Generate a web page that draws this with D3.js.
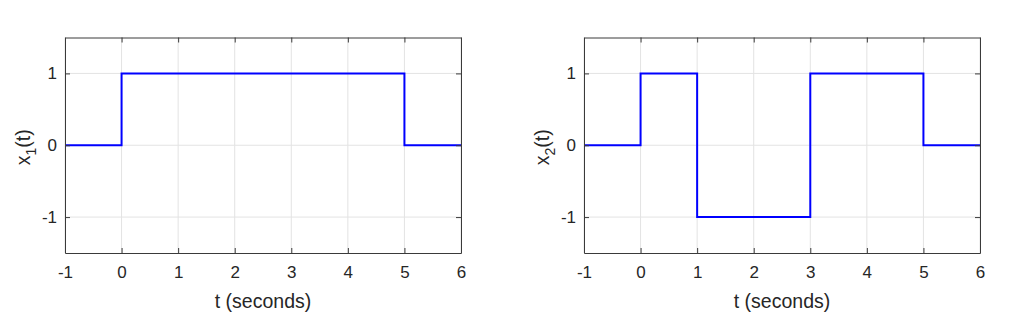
<!DOCTYPE html>
<html><head><meta charset="utf-8">
<script src="https://cdn.jsdelivr.net/npm/d3@7"></script>
<style>body{margin:0;background:#fff;} svg{display:block;font-family:"Liberation Sans",Arial,sans-serif;}</style>
</head><body>
<svg id="c" width="1015" height="331"></svg>
<script>
const xTicks = [-1,0,1,2,3,4,5,6];
const yTicks = [-1,0,1];
const t1 = [-1,0,0,5,5,6];
const x1 = [0,0,1,1,0,0];
const t2 = [-1,0,0,1,1,3,3,5,5,6];
const x2 = [0,0,1,1,-1,-1,1,1,0,0];
const xLabel = "t (seconds)";
const panels = [
  {t:t1, v:x1, sub:"1", left:65},
  {t:t2, v:x2, sub:"2", left:584}
];
const svg = d3.select("#c");
const W = 396, plotTop = 37.5, H = 215.5;
const axisColor = "#3a3a3a", gridColor = "#e3e3e3";
const fmt = d => String(d);
panels.forEach(p=>{
  const g = svg.append("g").attr("transform",`translate(${p.left},${plotTop})`);
  const x = d3.scaleLinear().domain([-1,6]).range([0,W]);
  const y = d3.scaleLinear().domain([-1.5,1.5]).range([H,0]);
  g.selectAll(".gx").data(xTicks).join("line").attr("x1",d=>x(d)).attr("x2",d=>x(d)).attr("y1",0).attr("y2",H).attr("stroke",gridColor).attr("stroke-width",1);
  g.selectAll(".gy").data(yTicks).join("line").attr("y1",d=>y(d)).attr("y2",d=>y(d)).attr("x1",0).attr("x2",W).attr("stroke",gridColor).attr("stroke-width",1);
  const line = d3.line().x(d=>x(d[0])).y(d=>y(d[1]));
  g.append("path").datum(p.t.map((tt,i)=>[tt,p.v[i]])).attr("d",line).attr("fill","none").attr("stroke","#0000ff").attr("stroke-width",2);
  const bx = g.append("g").attr("transform",`translate(0,${H})`).call(d3.axisBottom(x).tickValues(xTicks).tickSizeInner(-5).tickSizeOuter(0).tickPadding(13).tickFormat(fmt));
  const tx = g.append("g").call(d3.axisTop(x).tickValues(xTicks).tickSizeInner(-5).tickSizeOuter(0).tickFormat(""));
  const ly = g.append("g").call(d3.axisLeft(y).tickValues(yTicks).tickSizeInner(-5).tickSizeOuter(0).tickPadding(8).tickFormat(fmt));
  const ry = g.append("g").attr("transform",`translate(${W},0)`).call(d3.axisRight(y).tickValues(yTicks).tickSizeInner(-5).tickSizeOuter(0).tickFormat(""));
  [bx,tx,ly,ry].forEach(a=>{
    a.select(".domain").attr("stroke",axisColor).attr("stroke-width",1);
    a.selectAll(".tick line").attr("stroke",axisColor);
    a.selectAll("text").attr("fill","#262626").attr("font-size",17).attr("font-family","Liberation Sans, Arial, sans-serif");
  });
  g.append("text").attr("x",W/2).attr("y",H+55).attr("text-anchor","middle").attr("font-size",19.5).attr("fill","#262626").text(xLabel);
  const yl = g.append("text").attr("transform",`translate(-35,${H/2+2}) rotate(-90)`).attr("text-anchor","middle").attr("font-size",19.5).attr("fill","#262626");
  yl.append("tspan").text("x");
  yl.append("tspan").attr("dy",6).attr("font-size",14).text(p.sub);
  yl.append("tspan").attr("dy",-6).text("(t)");
});
</script>
</body></html>
